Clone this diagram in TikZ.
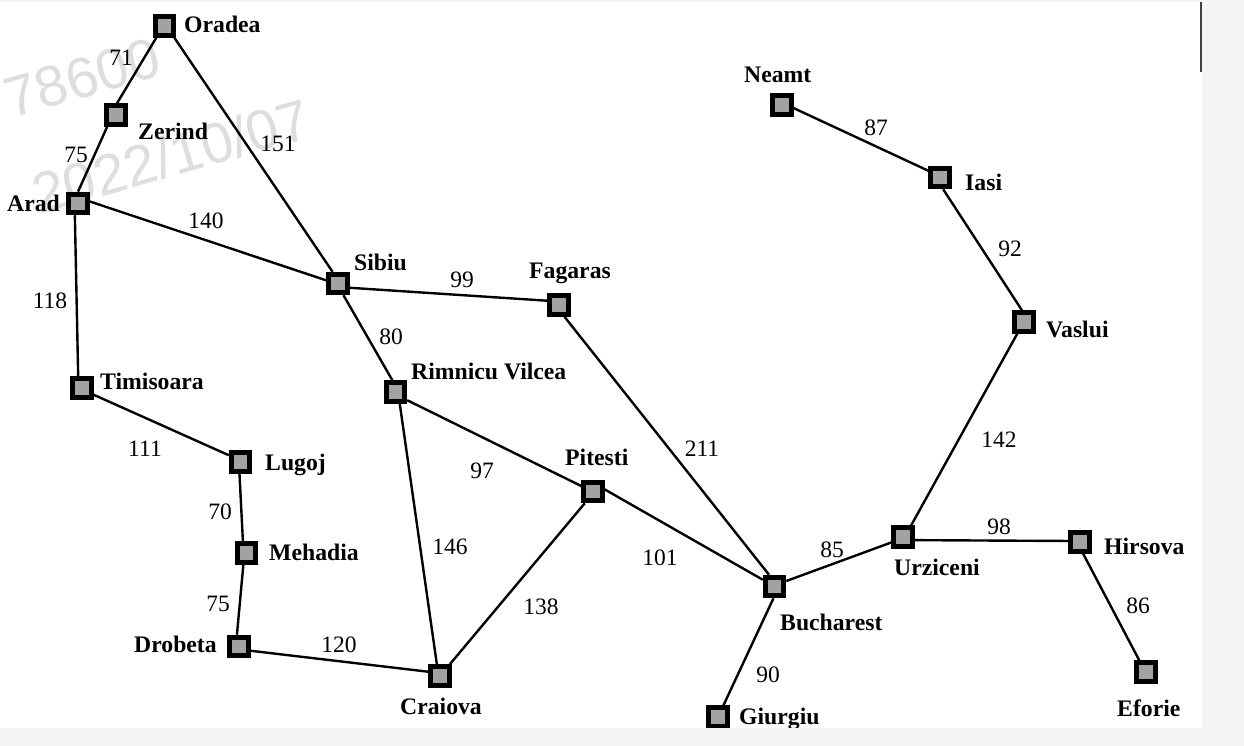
\documentclass[tikz,border=0pt]{standalone}
\usepackage{fontspec}
\setmainfont{Liberation Serif}
\newfontfamily\marksans{Liberation Sans}
\usepackage{tikz}
\usetikzlibrary{positioning}
\definecolor{papergray}{HTML}{F4F4F4}
\definecolor{markgray}{HTML}{DEDEDE}
\definecolor{cityfill}{HTML}{A2A2A2}
\tikzset{city/.style = {draw, fill = cityfill, rectangle, line width = 5, inner sep = 0, minimum size = 18.5}}
\tikzset{cityname/.style = {inner sep = 0, text height = 15, text depth = 0, font = \fontsize{23.7}{26}\selectfont\bfseries}}
\tikzset{dist/.style = {inner sep = 0, text height = 15, text depth = 0, font = \fontsize{23.5}{26}\selectfont}}
\tikzset{road/.style = {line width = 2.4}}
\tikzset{watermark/.style = {inner sep = 0, text = markgray, rotate = 16, font = \marksans\fontsize{57}{64}\selectfont}}

\begin{document}
\begin{tikzpicture}[x=1pt, y=-1pt]
    \useasboundingbox (0, 0) rectangle (1244, 746);
    \fill [papergray] (0, 0) rectangle (1244, 746);
    \fill [white] (0, 2) rectangle (1202, 728);
    \node [watermark] (stampnum) at (82, 78) {78600};
    \node [watermark] (stampdate) at (171, 156) {2022/10/07};

    \coordinate (edgetop) at (1201, 2);
    \coordinate (edgeend) at (1201, 72);
    \draw [line width = 1.2, black!75] (edgetop) -- (edgeend);

    \node [city] (oradea) at (164.5, 26) {};
    \node [city] (zerind) at (116, 115) {};
    \node [city] (arad) at (78, 203.5) {};
    \node [city] (timisoara) at (82, 388) {};
    \node [city] (lugoj) at (240.5, 462) {};
    \node [city] (mehadia) at (246.5, 553) {};
    \node [city] (drobeta) at (239, 646.5) {};
    \node [city] (craiova) at (440, 676) {};
    \node [city] (rimnicu) at (395.5, 392) {};
    \node [city] (sibiu) at (338, 283.5) {};
    \node [city] (fagaras) at (559, 305) {};
    \node [city] (pitesti) at (593, 491.5) {};
    \node [city] (bucharest) at (774.5, 586.5) {};
    \node [city] (giurgiu) at (718, 717) {};
    \node [city] (urziceni) at (903, 537) {};
    \node [city] (hirsova) at (1080, 542) {};
    \node [city] (eforie) at (1146, 672) {};
    \node [city] (vaslui) at (1024, 322) {};
    \node [city] (iasi) at (940, 177.5) {};
    \node [city] (neamt) at (782, 105) {};

    \node [cityname, anchor = west] (oradeaname) at (184, 25) {Oradea};
    \node [cityname, anchor = west] (zerindname) at (138, 132) {Zerind};
    \node [cityname, anchor = west] (aradname) at (7, 204) {Arad};
    \node [cityname, anchor = west] (timisoaraname) at (100, 382) {Timisoara};
    \node [cityname, anchor = west] (lugojname) at (265, 463) {Lugoj};
    \node [cityname, anchor = west] (mehadianame) at (269, 553) {Mehadia};
    \node [cityname, anchor = west] (drobetaname) at (134, 645) {Drobeta};
    \node [cityname, anchor = west] (craiovaname) at (400, 707) {Craiova};
    \node [cityname, anchor = west] (rimnicuname) at (411, 372) {Rimnicu Vilcea};
    \node [cityname, anchor = west] (sibiuname) at (354, 263) {Sibiu};
    \node [cityname, anchor = west] (fagarasname) at (529, 271) {Fagaras};
    \node [cityname, anchor = west] (pitestiname) at (565, 458) {Pitesti};
    \node [cityname, anchor = west] (bucharestname) at (780, 623) {Bucharest};
    \node [cityname, anchor = west] (giurgiuname) at (739, 717) {Giurgiu};
    \node [cityname, anchor = west] (urziceniname) at (894, 568) {Urziceni};
    \node [cityname, anchor = west] (hirsovaname) at (1104, 547) {Hirsova};
    \node [cityname, anchor = west] (eforiename) at (1117, 709) {Eforie};
    \node [cityname, anchor = west] (vasluiname) at (1046, 330) {Vaslui};
    \node [cityname, anchor = west] (iasiname) at (965, 183) {Iasi};
    \node [cityname, anchor = west] (neamtname) at (744, 75) {Neamt};

    \draw [road] (oradea.-125) -- (zerind.85);
    \draw [road] (zerind.-127) -- (arad.90);
    \draw [road] (oradea.-50) -- (sibiu.115);
    \draw [road] (arad.10) -- (sibiu.165);
    \draw [road] (arad.-105) -- (timisoara.108);
    \draw [road] (timisoara.-30) -- (lugoj.150);
    \draw [road] (lugoj.-95) -- (mehadia.107);
    \draw [road] (mehadia.-105) -- (drobeta.100);
    \draw [road] (drobeta.-20) -- (craiova.160);
    \draw [road] (sibiu.-20) -- (fagaras.160);
    \draw [road] (sibiu.-65) -- (rimnicu.105);
    \draw [road] (rimnicu.-70) -- (craiova.105);
    \draw [road] (rimnicu.-35) -- (pitesti.155);
    \draw [road] (pitesti.-125) -- (craiova.50);
    \draw [road] (pitesti.10) -- (bucharest.150);
    \draw [road] (fagaras.-65) -- (bucharest.115);
    \draw [road] (bucharest.-95) -- (giurgiu.65);
    \draw [road] (bucharest.25) -- (urziceni.-155);
    \draw [road] (urziceni.-15) -- (hirsova.175);
    \draw [road] (hirsova.-75) -- (eforie.120);
    \draw [road] (urziceni.55) -- (vaslui.-120);
    \draw [road] (vaslui.100) -- (iasi.-75);
    \draw [road] (iasi.150) -- (neamt.-15);

    \node [dist] (d71) at (121, 58) {71};
    \node [dist] (d75a) at (76, 155) {75};
    \node [dist] (d151) at (278, 144) {151};
    \node [dist] (d140) at (206, 221) {140};
    \node [dist] (d118) at (50, 301) {118};
    \node [dist] (d111) at (145, 449) {111};
    \node [dist] (d70) at (220, 512) {70};
    \node [dist] (d75b) at (218, 604) {75};
    \node [dist] (d120) at (339, 645) {120};
    \node [dist] (d146) at (450, 547) {146};
    \node [dist] (d80) at (391, 337) {80};
    \node [dist] (d99) at (462, 280) {99};
    \node [dist] (d97) at (482, 471) {97};
    \node [dist] (d211) at (702, 449) {211};
    \node [dist] (d138) at (541, 607) {138};
    \node [dist] (d101) at (660, 558) {101};
    \node [dist] (d85) at (832, 550) {85};
    \node [dist] (d90) at (768, 675) {90};
    \node [dist] (d142) at (999, 440) {142};
    \node [dist] (d98) at (999, 527) {98};
    \node [dist] (d86) at (1138, 606) {86};
    \node [dist] (d92) at (1010, 249) {92};
    \node [dist] (d87) at (876, 128) {87};

    \fill [papergray] (0, 728) rectangle (1244, 746);
\end{tikzpicture}
\end{document}
